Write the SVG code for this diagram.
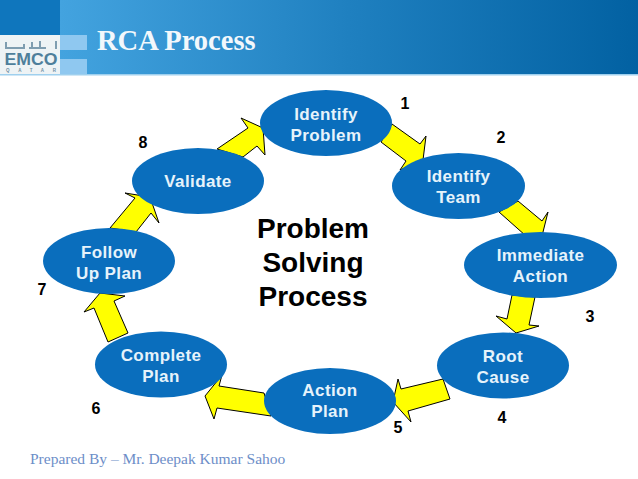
<svg xmlns="http://www.w3.org/2000/svg" width="638" height="479" viewBox="0 0 638 479">
<style>
.n{fill:#0a6ebd}
.a{fill:#ffff00;stroke:#000;stroke-width:1;stroke-linejoin:miter}
text{font-family:"Liberation Sans",Arial,sans-serif;font-weight:bold;text-anchor:middle}
.l{fill:#e6f3fb;font-size:17px;letter-spacing:.4px}
.c{fill:#000;font-size:28px}
.k{fill:#000;font-size:16px}
</style>
<defs>
<linearGradient id="hd" x1="60" y1="0" x2="638" y2="0" gradientUnits="userSpaceOnUse">
<stop offset="0" stop-color="#43a3df"/><stop offset=".5" stop-color="#1f80c0"/><stop offset="1" stop-color="#0261a2"/>
</linearGradient>
</defs>
<rect width="638" height="479" fill="#fff"/>
<g id="header">
<rect width="638" height="74" fill="url(#hd)"/>
<rect y="74" width="638" height="1.500" fill="#9fd0ee"/>
<rect width="60" height="35" fill="#0f76bd"/>
<rect x="60" y="35" width="27" height="15" fill="#8fc8f0"/>
<rect x="60" y="59" width="27" height="15" fill="#8fc8f0"/>
<text x="97" y="50" style="font-family:'Liberation Serif',serif;font-size:28.500px;text-anchor:start" fill="#f2f8fc">RCA Process</text>
</g>
<g id="logo">
<rect y="35" width="60" height="39" fill="#eef3f5"/>
<g fill="#7f9db0">
<rect x="5" y="47" width="20" height="2"/><rect x="5" y="42" width="2" height="6"/><rect x="23" y="44" width="2" height="4"/>
<rect x="29" y="47" width="17" height="2"/><rect x="31" y="42" width="2" height="6"/><rect x="39" y="41" width="2" height="7"/>
<rect x="55" y="41" width="2" height="8"/>
</g>
<text x="31" y="64.500" textLength="53" lengthAdjust="spacingAndGlyphs" style="font-size:16px" fill="#4f7f9b">EMCO</text>
<text x="31" y="72" textLength="50" style="font-size:4.500px" fill="#6d8ea3">QATAR</text>
</g>
<g id="connectors">
<polygon class="a" points="392,124 420,144 426,136 423,160 400,170 406,161 381,142"/>
<polygon class="a" points="518,201 542,221 548,212 542,236 518,245 526,236 499,212"/>
<polygon class="a" points="512,295 535,297 529,325 539,326 516,333 496,316 507,319"/>
<polygon class="a" points="443,379 450,399 408,411 411,422 393,402 398,379 401,389"/>
<polygon class="a" points="264,393 271,416 217,408 214,419 205,396 222,375 219,386"/>
<polygon class="a" points="108,342 128,333 114,301 125,296 100,293 84,312 94,308"/>
<polygon class="a" points="110,228 136,232 151,213 159,223 150,197 125,193 135,198"/>
<polygon class="a" points="217,149 243,157 257,146 265,155 263,128 241,118 248,128"/>
</g>
<g id="identify-problem"><ellipse class="n" cx="326" cy="123" rx="66" ry="33"/><text class="l" x="326" y="120">Identify</text><text class="l" x="326" y="141">Problem</text></g>
<g id="identify-team"><ellipse class="n" cx="458.500" cy="186" rx="66.500" ry="33"/><text class="l" x="458.500" y="182">Identify</text><text class="l" x="458.500" y="203">Team</text></g>
<g id="immediate-action"><ellipse class="n" cx="540.500" cy="265" rx="76.500" ry="33"/><text class="l" x="540.500" y="261">Immediate</text><text class="l" x="540.500" y="282">Action</text></g>
<g id="root-cause"><ellipse class="n" cx="503" cy="365.500" rx="66" ry="33"/><text class="l" x="503" y="362">Root</text><text class="l" x="503" y="383">Cause</text></g>
<g id="action-plan"><ellipse class="n" cx="330" cy="401" rx="66" ry="33"/><text class="l" x="330" y="396">Action</text><text class="l" x="330" y="417">Plan</text></g>
<g id="complete-plan"><ellipse class="n" cx="161" cy="364.500" rx="66" ry="33"/><text class="l" x="161" y="361">Complete</text><text class="l" x="161" y="382">Plan</text></g>
<g id="follow-up-plan"><ellipse class="n" cx="109" cy="261" rx="66" ry="33"/><text class="l" x="109" y="258">Follow</text><text class="l" x="109" y="279">Up Plan</text></g>
<g id="validate"><ellipse class="n" cx="198" cy="181" rx="66" ry="33"/><text class="l" x="198" y="187">Validate</text></g>
<g id="center-label">
<text class="c" x="313" y="238">Problem</text><text class="c" x="313" y="272">Solving</text><text class="c" x="313" y="306">Process</text>
</g>
<g id="numbers">
<text class="k" x="405" y="109">1</text><text class="k" x="501" y="143">2</text><text class="k" x="590" y="322">3</text><text class="k" x="502" y="423">4</text><text class="k" x="398" y="433">5</text><text class="k" x="96" y="414">6</text><text class="k" x="42" y="295">7</text><text class="k" x="143" y="148">8</text>
</g>
<text x="30" y="464" style="font-family:'Liberation Serif',serif;font-weight:normal;font-size:15.500px;text-anchor:start" fill="#6d8ec8">Prepared By – Mr. Deepak Kumar Sahoo</text>
</svg>
